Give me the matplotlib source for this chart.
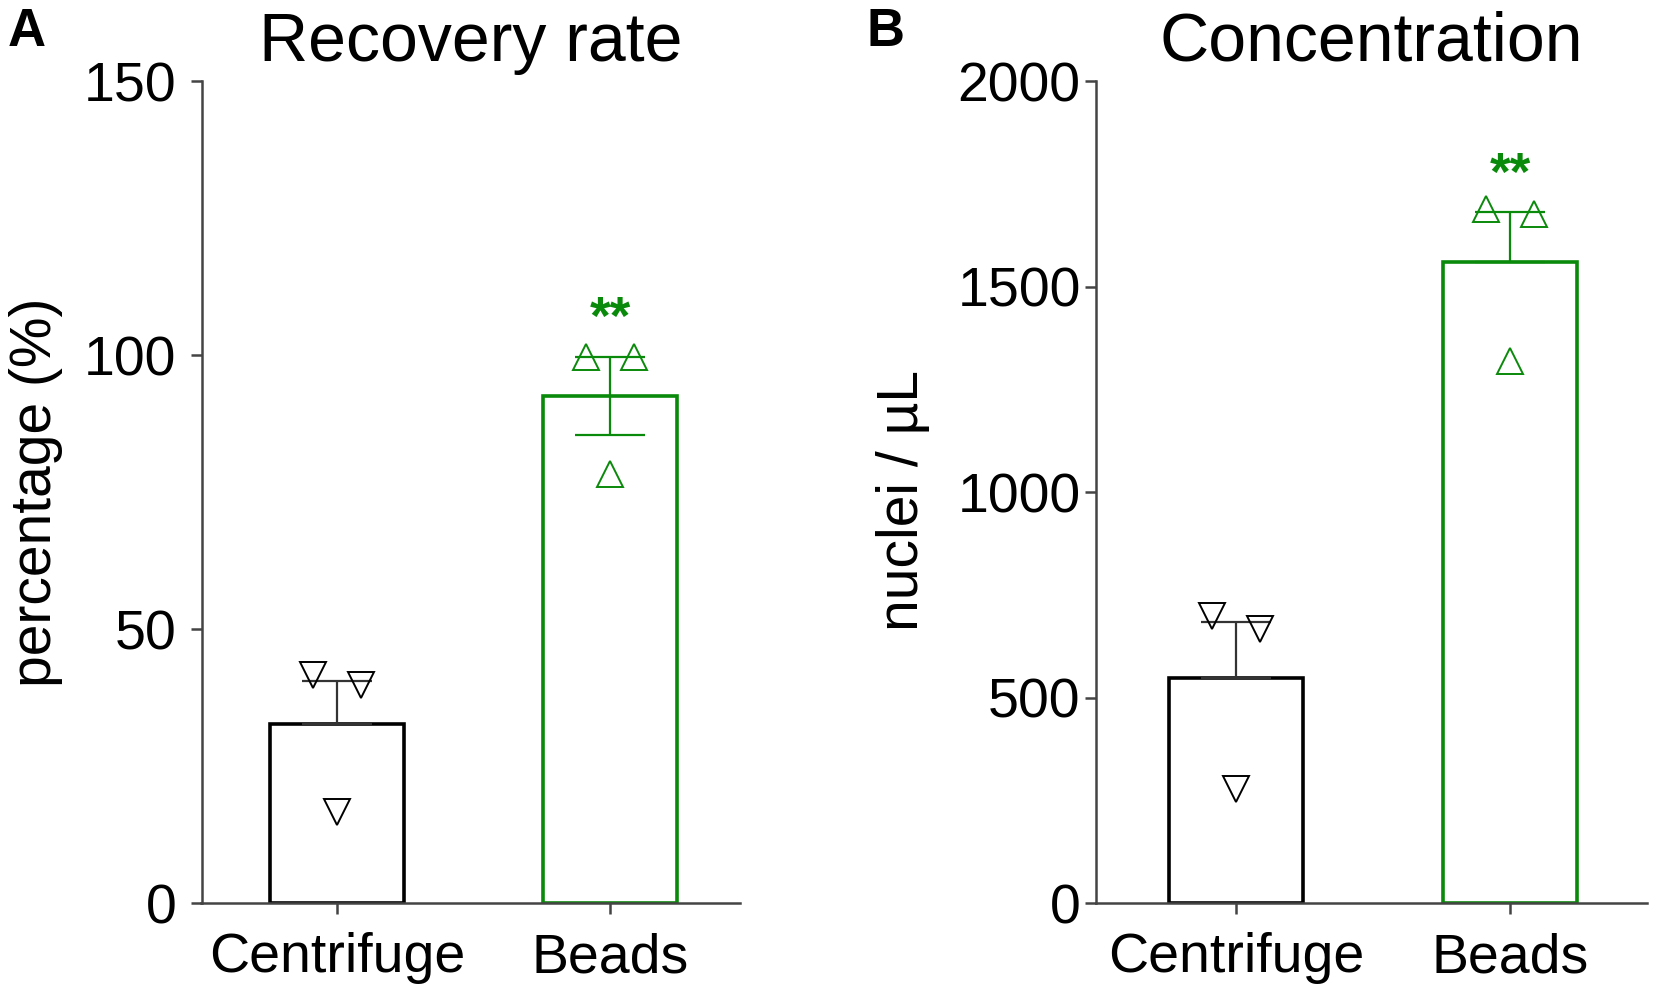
import matplotlib
matplotlib.use("Agg")
import matplotlib.pyplot as plt
import numpy as np

plt.rcParams['font.family'] = ['Liberation Sans', 'DejaVu Sans']

# ---- data ----
categories = ["Centrifuge", "Beads"]

rec_means = [32.6, 92.5]
rec_sem = [8.0, 7.1]
rec_cent_pts = [41.6, 39.7, 16.6]
rec_beads_pts = [99.6, 99.6, 78.3]
rec_ticks = [0, 50, 100, 150]

conc_means = [548, 1561]
conc_sem = [136, 121]
conc_cent_pts = [698, 668, 277]
conc_beads_pts = [1688, 1676, 1320]
conc_ticks = [0, 500, 1000, 1500, 2000]

GREEN = '#0a8a0a'
SPINE = '#444444'
W, H = 1654, 996

fig = plt.figure(figsize=(W / 100, H / 100), dpi=100)


def panel(ax, means, sems, pts_c, pts_b, ticks, ymax, ylabel, title,
          lower_beads, star_y, xlim, ypad):
    x = np.arange(len(categories))
    colors = ['black', GREEN]
    ax.bar(x, means, width=0.49, facecolor='white', edgecolor=colors,
           linewidth=2.6, zorder=2)
    for i, c in enumerate(colors):
        lo = sems[i] if (i == 1 and lower_beads) else 0
        ax.errorbar(x[i], means[i], yerr=[[lo], [sems[i]]], fmt='none',
                    ecolor=c if i == 1 else '#333333', elinewidth=1.6,
                    capsize=25, capthick=1.6, zorder=3)
    offs = [-0.088, 0.088, 0.0]
    for o, v in zip(offs, pts_c):
        ax.plot(x[0] + o, v, marker='v', ms=19, mfc='none', mec='black',
                mew=1.4, ls='none', zorder=4)
    for o, v in zip(offs, pts_b):
        ax.plot(x[1] + o, v, marker='^', ms=19, mfc='none', mec=GREEN,
                mew=1.4, ls='none', zorder=4)
    ax.text(x[1], star_y, '**', color=GREEN, fontsize=38, fontweight='bold',
            ha='center', va='center')
    ax.set_xlim(*xlim)
    ax.set_ylim(0, ymax)
    ax.set_yticks(ticks)
    ax.set_yticklabels([str(t) for t in ticks])
    ax.set_xticks(x)
    ax.set_xticklabels(categories)
    for s in ['top', 'right']:
        ax.spines[s].set_visible(False)
    for s in ['left', 'bottom']:
        ax.spines[s].set_color(SPINE)
        ax.spines[s].set_linewidth(1.8)
    ax.tick_params(axis='both', colors=SPINE, width=1.8, length=8,
                   labelsize=40, labelcolor='black')
    ax.tick_params(axis='y', pad=ypad)
    ax.tick_params(axis='x', pad=13)
    ax.set_ylabel(ylabel, fontsize=41)
    ax.set_title(title, fontsize=49, pad=0, y=1.025)
    ax.patch.set_alpha(0)


axA = fig.add_axes([201.5 / W, 1 - 903 / H, 538 / W, 821.8 / H])
panel(axA, rec_means, rec_sem, rec_cent_pts, rec_beads_pts, rec_ticks, 150,
      'percentage (%)', 'Recovery rate', True, 106.5, (-0.496, 1.474), 10)
axA.yaxis.set_label_coords(-0.258, 0.5)

axB = fig.add_axes([1096 / W, 1 - 903 / H, 551 / W, 821.8 / H])
panel(axB, conc_means, conc_sem, conc_cent_pts, conc_beads_pts, conc_ticks, 2000,
      'nuclei / µL', 'Concentration', False, 1770, (-0.511, 1.50), 3)
axB.yaxis.set_label_coords(-0.302, 0.49)

fig.text(8 / W, 1 - 32 / H, 'A', fontsize=38, fontweight='bold', va='center', ha='left')
fig.text(867 / W, 1 - 32 / H, 'B', fontsize=38, fontweight='bold', va='center', ha='left')

fig.savefig('out.png', dpi=100)
